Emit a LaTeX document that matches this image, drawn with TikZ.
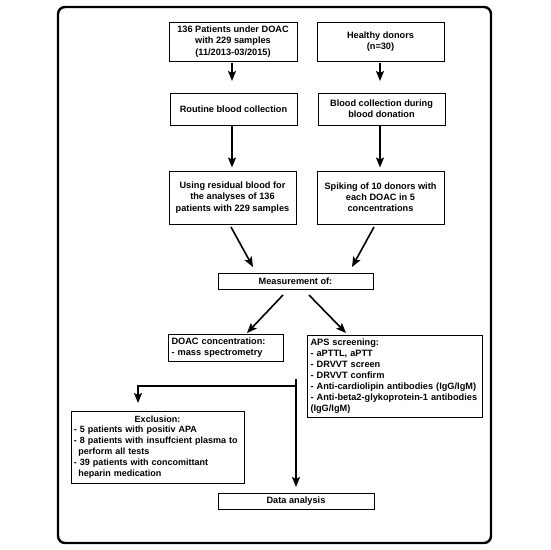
\documentclass[tikz,border=0pt]{standalone}
\usepackage{fontspec}
\setmainfont{Liberation Sans}
\usetikzlibrary{arrows.meta}
\begin{document}
\begin{tikzpicture}[x=1pt,y=-1pt,
  box/.style={draw,line width=1pt,inner sep=0pt,align=center,font=\fontsize{9.2}{11.2}\selectfont\bfseries},
  lbox/.style={draw,line width=1pt,inner xsep=3.5pt,inner ysep=0pt,align=left,font=\fontsize{9.2}{11.1}\selectfont\bfseries},
  arr/.style={line width=1.6pt,-{Stealth[length=10pt,width=8pt,inset=2pt]}}]
\useasboundingbox (0,0) rectangle (550,550);
\draw[line width=2.4pt,rounded corners=7pt] (58,7) rectangle (491,543);
\node[box,minimum width=128pt,minimum height=39pt] (b1) at (233,41.5) {136 Patients under DOAC\\with 229 samples\\(11/2013-03/2015)};
\node[box,minimum width=127pt,minimum height=39pt] (b2) at (380.5,41.5) {Healthy donors\\(n=30)};
\node[box,minimum width=127pt,minimum height=32pt] (b3) at (233.5,109) {Routine blood collection};
\node[box,minimum width=127pt,minimum height=32pt] (b4) at (381.5,109) {Blood collection during\\blood donation};
\node[box,minimum width=127pt,minimum height=53pt] (b5) at (232.5,197.5) {Using residual blood for\\the analyses of 136\\patients with 229 samples};
\node[box,minimum width=127pt,minimum height=53pt] (b6) at (380.5,197.5) {Spiking of 10 donors with\\each DOAC in 5\\concentrations};
\node[box,minimum width=155pt,minimum height=16pt] (meas) at (295.5,281) {Measurement of:};
\node[lbox,text width=108pt,minimum height=27pt] (doac) at (225.5,348) {DOAC concentration:\\- mass spectrometry};
\node[lbox,text width=168pt,minimum height=82pt] (aps) at (394.5,376) {APS screening:\\- aPTTL, aPTT\\- DRVVT screen\\- DRVVT confirm\\- Anti-cardiolipin antibodies (IgG/IgM)\\- Anti-beta2-glykoprotein-1 antibodies\\(IgG/IgM)};
\node[lbox,inner xsep=3pt,text width=167pt,minimum height=72pt,font=\fontsize{9}{10.9}\selectfont\bfseries] (excl) at (157.5,447) {\centering Exclusion:\par\raggedright
- 5 patients with positiv APA\\
- 8 patients with insuffcient plasma to\\\hspace*{4.3pt}perform all tests\\
- 39 patients with concomittant\\\hspace*{4.3pt}heparin medication};
\node[box,minimum width=156pt,minimum height=16pt] (data) at (296,501) {Data analysis};
\coordinate (a1) at (232,62.5);
\coordinate (a2) at (232,81);
\coordinate (a3) at (380,62.5);
\coordinate (a4) at (380,81);
\draw[arr] (a1) -- (a2);
\draw[arr] (a3) -- (a4);
\draw[arr,shorten <=0pt,shorten >=3pt] ([xshift=-1.5pt]b3.south) -- ([xshift=-1.5pt]b3.south |- b5.north);
\draw[arr,shorten <=0pt,shorten >=3pt] ([xshift=-1.5pt]b4.south) -- ([xshift=-1.5pt]b4.south |- b6.north);
\coordinate (l1) at (231,227);
\coordinate (l2) at (253,267);
\coordinate (r1) at (374,227);
\coordinate (r2) at (352,267);
\draw[arr] (l1) -- (l2);
\draw[arr] (r1) -- (r2);
\coordinate (m1) at (283,295);
\coordinate (m2) at (247,333);
\coordinate (m3) at (309,295);
\coordinate (m4) at (346,333);
\draw[arr] (m1) -- (m2);
\draw[arr] (m3) -- (m4);
\coordinate (v0) at (296,379);
\coordinate (v1) at (296,487);
\coordinate (br) at (296,386);
\coordinate (ex) at (138,403);
\draw[arr] (v0) -- (v1);
\draw[arr,line width=1.4pt] (br) -| (ex);
\end{tikzpicture}
\end{document}
